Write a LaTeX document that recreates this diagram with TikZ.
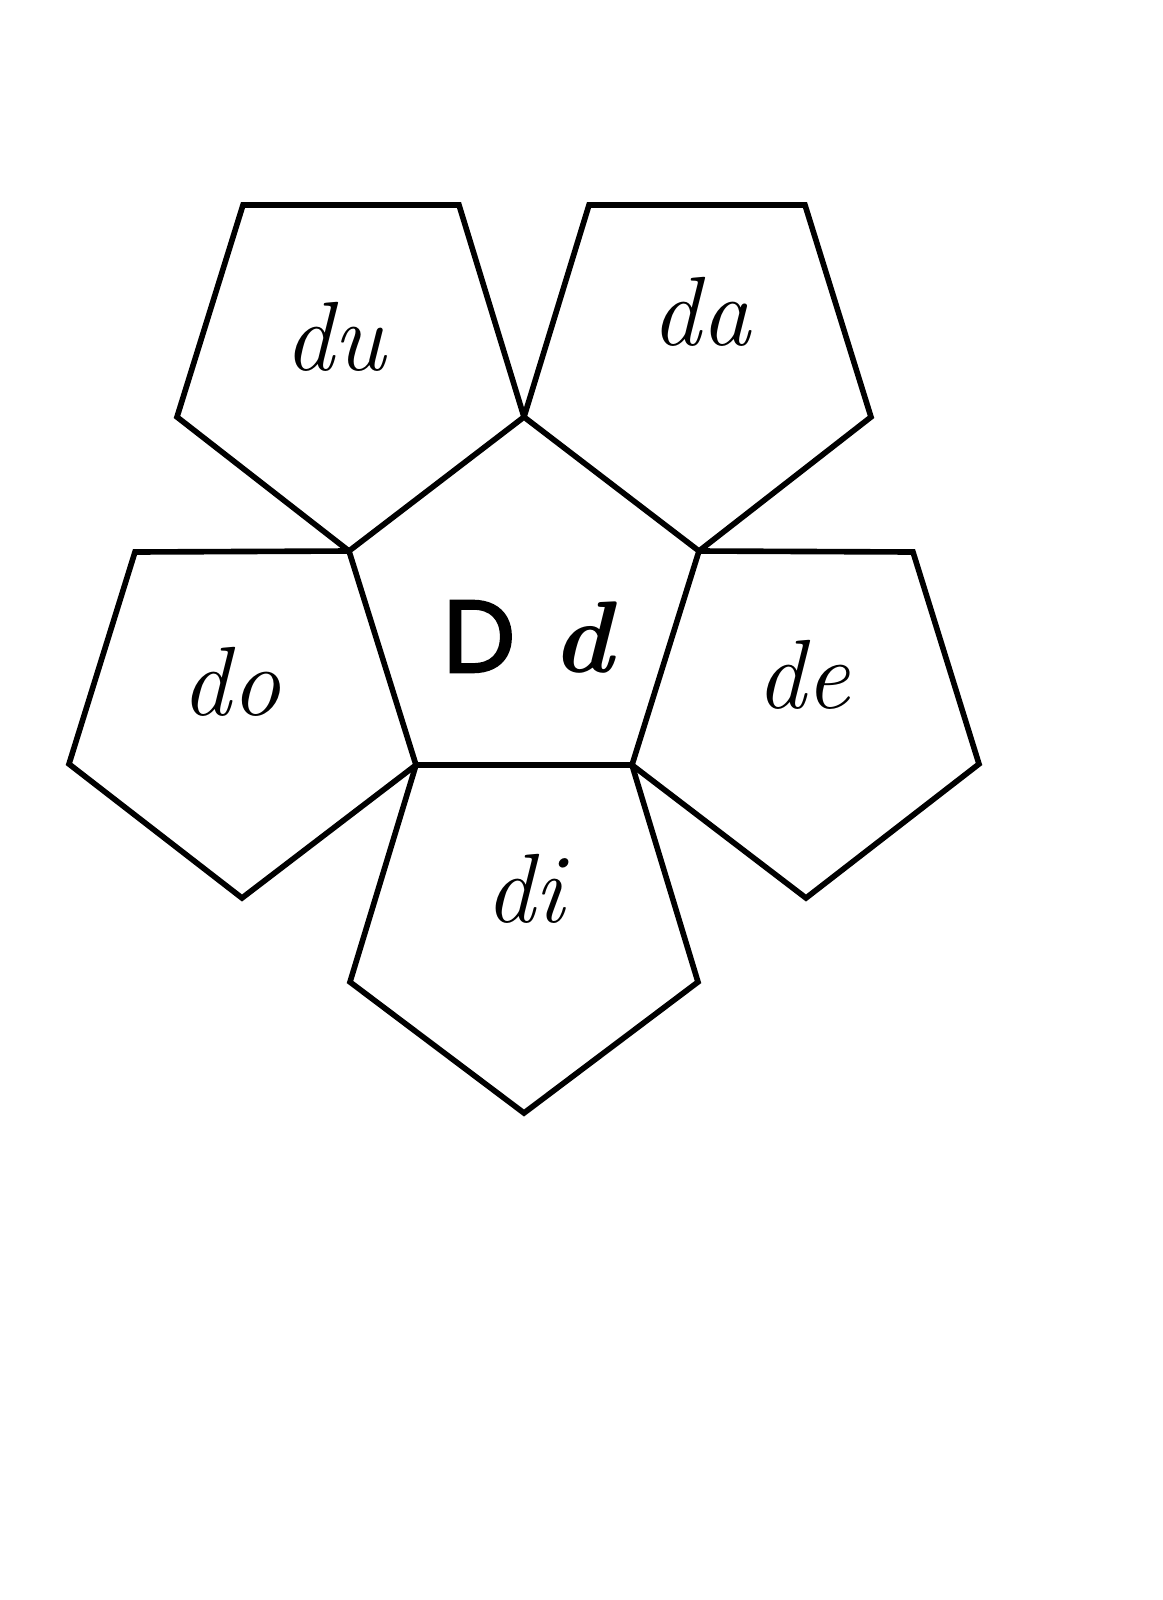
\documentclass[tikz,border=0pt]{standalone}
\usepackage{fontspec}
\newfontfamily\printfont[FakeBold=2.5]{Poppins}
\begin{document}
\begin{tikzpicture}[x=0.02cm, y=-0.02cm,
    petal/.style={line width=3.2pt, line join=miter},
    syllable/.style={anchor=base, inner sep=0pt, font=\fontsize{56}{56}\selectfont\itshape},
    letter/.style={anchor=base, inner sep=0pt, font=\fontsize{58}{58}\selectfont}]
    \useasboundingbox (0,0) rectangle (1163,1600);
    % Middle pentagon
    \coordinate (T)  at (524,417);
    \coordinate (UR) at (699,551);
    \coordinate (LR) at (632,765);
    \coordinate (LL) at (416,765);
    \coordinate (UL) at (349,551);
    \draw [petal] (T) -- (UR) -- (LR) -- (LL) -- (UL) -- cycle;
    % Outer pentagons
    \draw [petal] (UL) -- (177,417) -- (243,205) -- (459,205) -- (T);
    \draw [petal] (T) -- (589,205) -- (805,205) -- (871,417) -- (UR);
    \draw [petal] (UL) -- (135,552) -- (69,764) -- (242,898) -- (LL);
    \draw [petal] (UR) -- (913,552) -- (979,764) -- (806,898) -- (LR);
    \draw [petal] (LL) -- (350,982) -- (524,1113) -- (698,982) -- (LR);
    % Syllables
    \node [syllable] (du) at (335,370) {du};
    \node [syllable] (da) at (701,345) {da};
    \node [syllable] (do) at (231,715) {do};
    \node [syllable] (de) at (803,708) {de};
    \node [syllable] (di) at (525,922) {di};
    % Letter
    \node [letter, font=\fontsize{58}{58}\selectfont\printfont] (upper) at (479,672) {D};
    \node [letter, font=\fontsize{58}{58}\selectfont\bfseries\itshape] (lower) at (583,672) {d};
\end{tikzpicture}
\end{document}
